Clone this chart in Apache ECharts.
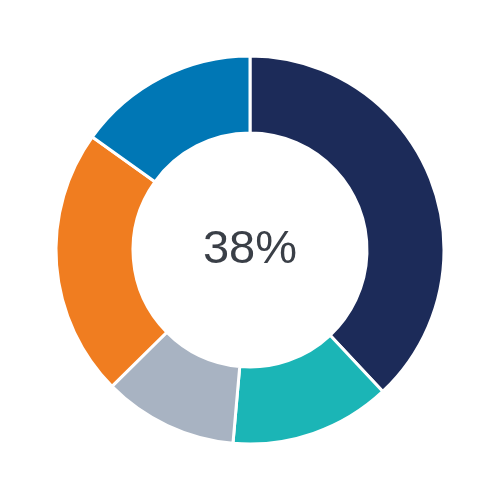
<!DOCTYPE html>
<html>
<head>
<meta charset="utf-8">
<script src="https://cdn.jsdelivr.net/npm/echarts@6/dist/echarts.min.js"></script>
<style>html,body{margin:0;padding:0;background:#fff;}#c{width:500px;height:500px;}</style>
</head>
<body>
<div id="c"></div>
<script>
const categories = ['A', 'B', 'C', 'D', 'E'];
const values = [38, 13.4, 11.2, 22.3, 15.1];
const colors = ['#1c2b59', '#1bb5b6', '#a8b3c2', '#f07d20', '#0077b5'];
const centerLabel = '38%';

const chart = echarts.init(document.getElementById('c'));
chart.setOption({
  animation: false,
  backgroundColor: '#ffffff',
  title: {
    text: centerLabel,
    left: 'center',
    top: 'middle',
    textStyle: { fontFamily: 'Liberation Sans, Arial, sans-serif', fontSize: 47, fontWeight: 'normal', color: '#3a3f47' }
  },
  series: [{
    type: 'pie',
    center: [250, 250],
    radius: [117, 194],
    startAngle: 90,
    clockwise: true,
    label: { show: false },
    labelLine: { show: false },
    itemStyle: { borderColor: '#ffffff', borderWidth: 3 },
    data: categories.map((c, i) => ({ name: c, value: values[i], itemStyle: { color: colors[i] } }))
  }]
});
</script>
</body>
</html>
